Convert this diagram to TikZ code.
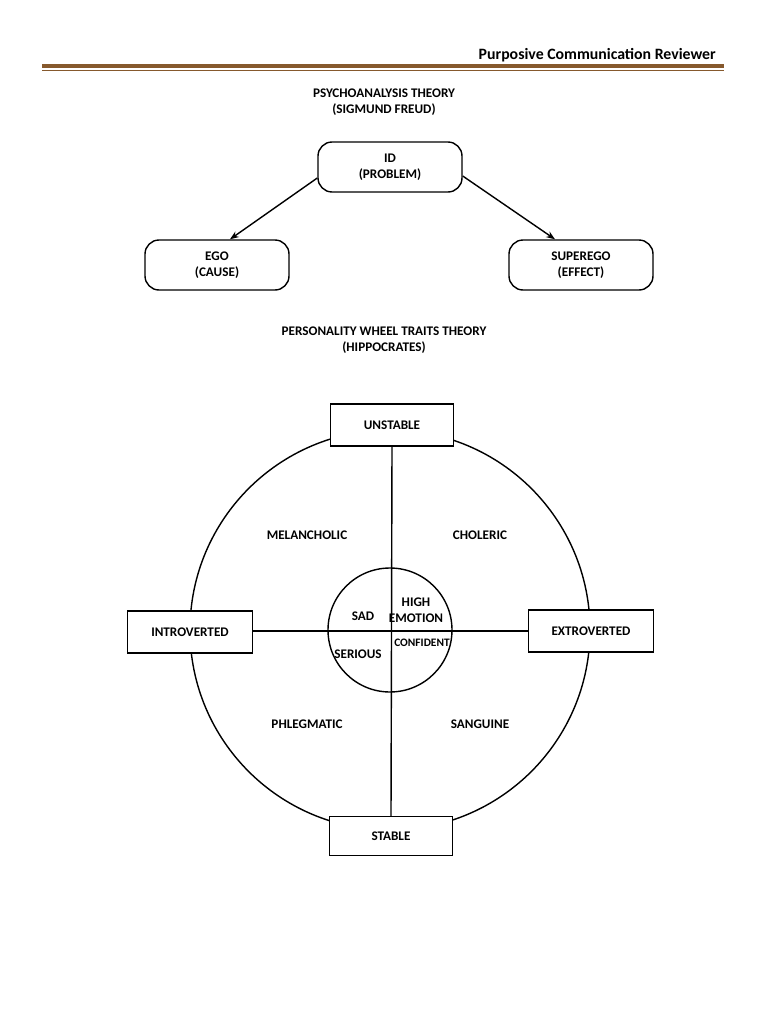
\documentclass[tikz,border=0pt]{standalone}
\usepackage{fontspec}
\setmainfont{Carlito}
\usetikzlibrary{arrows.meta}
\tikzset{
  label/.style={font=\fontsize{7.5}{9}\selectfont\bfseries, align=center},
  theory box/.style={draw, thick, fill=white, rounded corners=8pt, minimum width=144*0.02cm, minimum height=50*0.02cm, label},
  trait box/.style={draw, thick, fill=white, minimum width=123*0.02cm, minimum height=42*0.02cm, label},
}
\begin{document}
\begin{tikzpicture}[x=0.02cm, y=-0.02cm]
  \useasboundingbox (0,0) rectangle (768,1024);
  % header
  \node [anchor=east, font=\fontsize{9}{10}\selectfont\bfseries] (header) at (722,55) {Purposive Communication Reviewer};
  \draw [line width=2pt, brown!70!black] (42,66) -- (724,66);
  \draw [line width=0.6pt, brown!70!black] (42,70.5) -- (724,70.5);

  % psychoanalysis
  \node [label] (title-freud) at (384,102) {PSYCHOANALYSIS THEORY\\(SIGMUND FREUD)};
  \node [theory box] (id) at (390,167) {ID\\(PROBLEM)};
  \node [theory box] (ego) at (217,265) {EGO\\(CAUSE)};
  \node [theory box] (superego) at (581,265) {SUPEREGO\\(EFFECT)};
  \draw [-{Stealth[length=5pt]}, thick] (id.west |- 0,178) -- (ego.north -| 230,0);
  \draw [-{Stealth[length=5pt]}, thick] (id.east |- 0,176) -- (superego.north -| 555,0);

  % personality wheel
  \node [label] (title-wheel) at (384,340) {PERSONALITY WHEEL TRAITS THEORY\\(HIPPOCRATES)};
  \node [draw, thick, circle, minimum size=400*0.02cm] (wheel) at (390,630) {};
  \node [draw, thick, circle, minimum size=124*0.02cm] (core) at (390,630) {};
  \draw [thick] (392,447) -- (391,816);
  \draw [thick] (253,631) -- (529,631);
  \node [trait box] (unstable) at (392,425) {UNSTABLE};
  \node [trait box, minimum height=39*0.02cm] (stable) at (391,836) {STABLE};
  \node [trait box, minimum width=125*0.02cm] (introverted) at (190,632) {INTROVERTED};
  \node [trait box, minimum width=125*0.02cm] (extroverted) at (591,631) {EXTROVERTED};

  \foreach \t/\x/\y in {MELANCHOLIC/307/535, CHOLERIC/480/535, PHLEGMATIC/307/724, SANGUINE/480/724,
                        SAD/363/616, SERIOUS/358/654}
    \node [label] (trait-\t) at (\x,\y) {\t};
  \node [label] (trait-high) at (416,610) {HIGH\\EMOTION};
  \node [label, font=\fontsize{6.5}{8}\selectfont\bfseries] (trait-confident) at (422,643) {CONFIDENT};
\end{tikzpicture}
\end{document}
